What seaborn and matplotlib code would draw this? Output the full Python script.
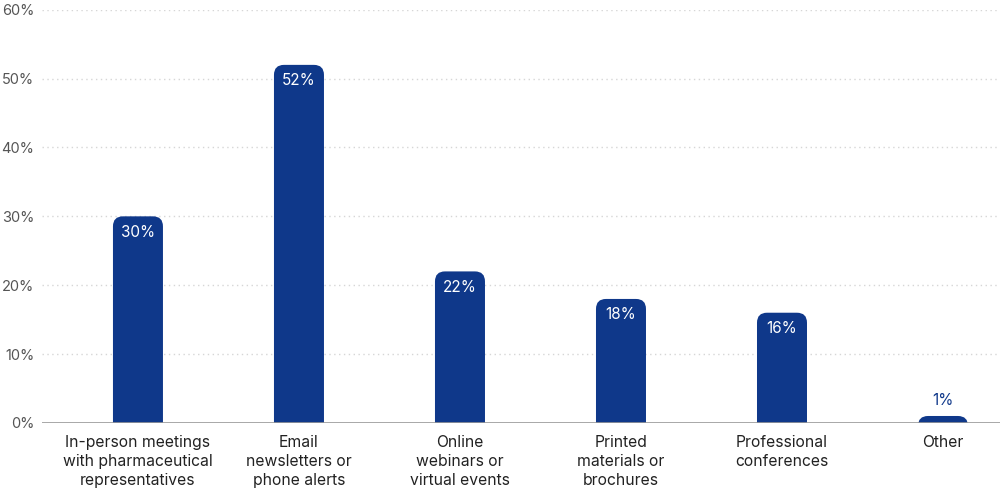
import numpy as np
import pandas as pd
import seaborn as sns
import matplotlib.pyplot as plt
from matplotlib.patches import FancyBboxPatch

# 데이터
categories = ["In-person meetings\nwith pharmaceutical\nrepresentatives",
              "Email\nnewsletters or\nphone alerts",
              "Online\nwebinars or\nvirtual events",
              "Printed\nmaterials or\nbrochures",
              "Professional\nconferences",
              "Other"]
values = [30, 52, 22, 18, 16, 1]
yticks = [0, 10, 20, 30, 40, 50, 60]

bar_color = "#0f388a"

sns.set_style("white")
plt.rcParams['font.family'] = ['Inter', 'DejaVu Sans']

df = pd.DataFrame({"cat": categories, "val": values})

fig = plt.figure(figsize=(10, 4.9), dpi=100)
ax = fig.add_axes([0.042, 0.137, 0.958, 0.843])

sns.barplot(data=df, x="cat", y="val", color=bar_color, width=50 / 161, ax=ax)

ax.set_xlim(-0.596, 5.354)
ax.set_ylim(0, 60)

# 막대를 위쪽만 둥글게 다시 그리기
rx = 10 / 161
ry = rx * (60 / (0.843 * 490)) * (0.958 * 1000) / 5.95
for p in list(ax.patches):
    x0, w, h = p.get_x(), p.get_width(), p.get_height()
    p.remove()
    box = FancyBboxPatch((x0, -ry), w, h + ry,
                         boxstyle=f"round,pad=0,rounding_size={rx}",
                         mutation_aspect=ry / rx,
                         facecolor=bar_color, edgecolor="none", zorder=3)
    ax.add_patch(box)

# 값 라벨
for i, v in enumerate(values):
    if v >= 5:
        ax.text(i, v - 2.3, f"{v}%", ha="center", va="center",
                color="white", fontsize=11, zorder=4)
    else:
        ax.text(i, v + 2.3, f"{v}%", ha="center", va="center",
                color=bar_color, fontsize=11, zorder=4)

ax.set_yticks(yticks)
ax.set_yticklabels([f"{t}%" for t in yticks], color="#555555", fontsize=10.5)
ax.tick_params(axis="y", length=0, pad=5.5)
ax.tick_params(axis="x", length=0, pad=9, labelsize=11.3, labelcolor="#222222")
for t in ax.get_xticklabels():
    t.set_linespacing(1.33)

for y in yticks[1:]:
    ax.axhline(y, color="#d6d6d6", linestyle=(0, (1, 2.5)), linewidth=1, zorder=1)
ax.axhline(0, color="#999999", linewidth=1.2, zorder=5)

for s in ax.spines.values():
    s.set_visible(False)
ax.set_xlabel("")
ax.set_ylabel("")

fig.savefig("out.png", dpi=100)
